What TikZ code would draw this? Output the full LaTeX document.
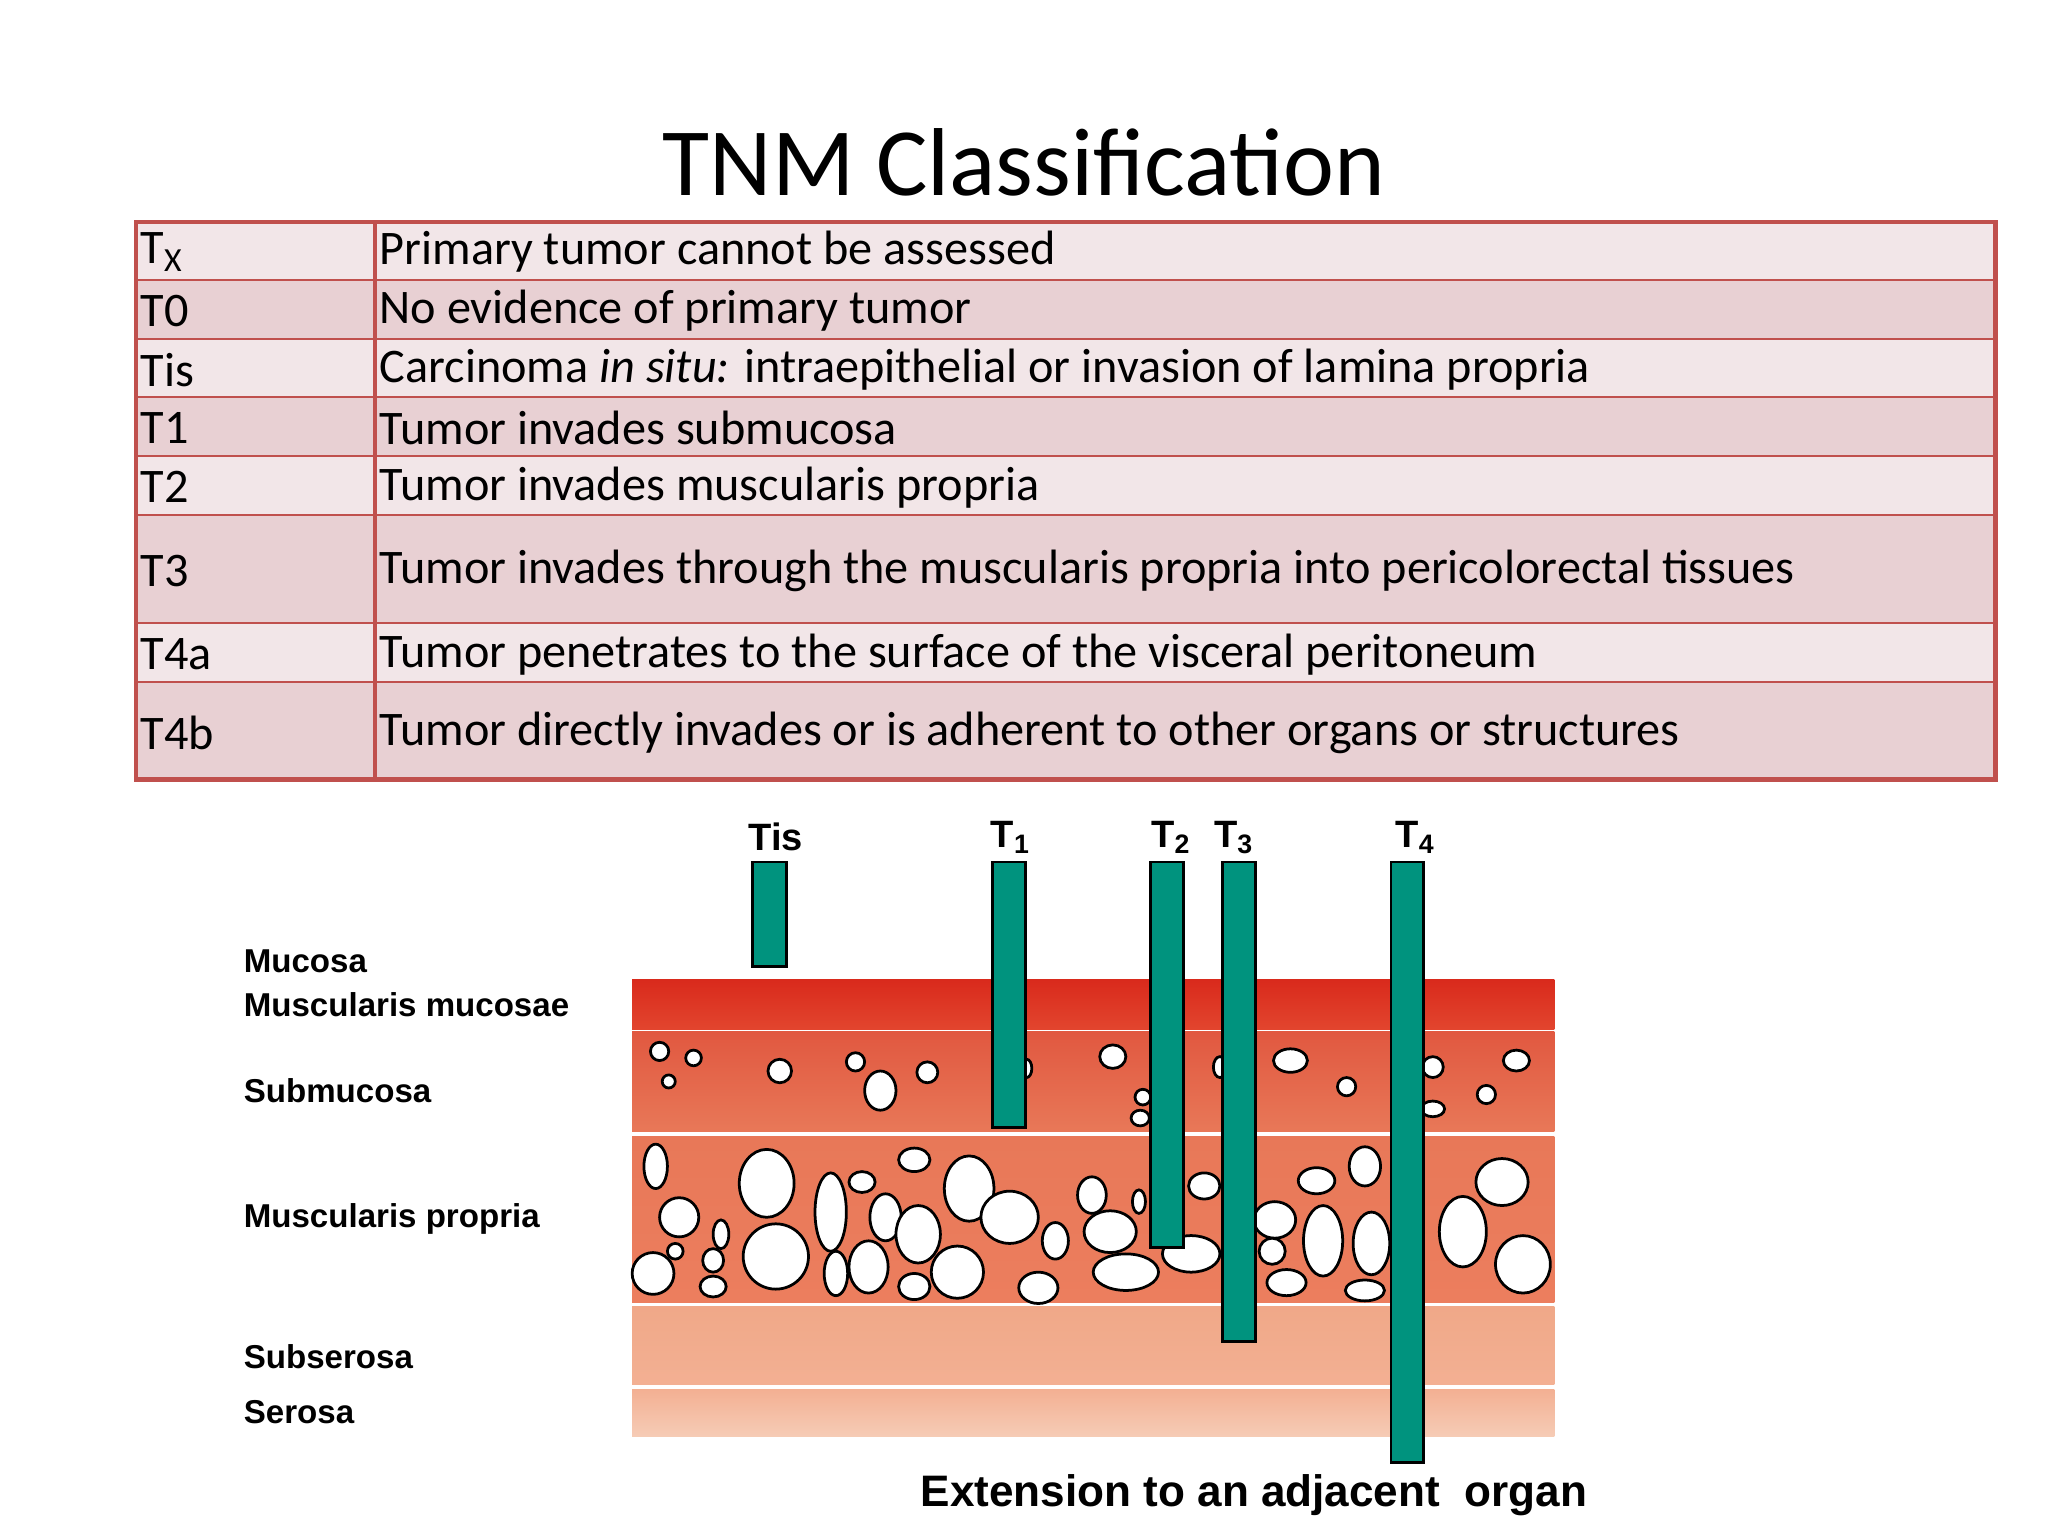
\documentclass[tikz,border=0pt]{standalone}
\usepackage{fontspec}
\setmainfont{Carlito}
\newfontfamily\arialb{Liberation Sans}[FakeBold=0]
\begin{document}
\begin{tikzpicture}[x=0.01cm,y=-0.01cm,
  cellL/.style={fill=white!95!red!5,draw=none},
  cellD/.style={fill=red!25!gray!20!white!90,draw=none},
  ttext/.style={anchor=west,font=\fontsize{10.5}{12}\selectfont,inner sep=0pt},
  lab/.style={anchor=west,font=\arialb\bfseries\fontsize{7.2}{8}\selectfont,inner sep=0pt},
  tlab/.style={font=\arialb\bfseries\fontsize{8.3}{9}\selectfont,inner sep=0pt},
  bar/.style={fill=teal!85!green!70!black,draw=black,line width=0.6pt},
  cell/.style={fill=white,draw=black,line width=0.6pt}]
\useasboundingbox (0,0) rectangle (1568,1176);
\definecolor{rowL}{HTML}{F2E6E8}
\definecolor{rowD}{HTML}{E8D0D3}
\definecolor{brd}{HTML}{C0504D}
\definecolor{bar}{HTML}{00937E}
\node[font=\fontsize{21}{24}\selectfont] (title) at (784,124) {TNM Classification};
% table rows
\foreach \a/\b/\c [count=\i] in {170/215/rowL,215/260/rowD,260/305/rowL,305/350/rowD,350/395/rowL,395/478/rowD,478/523/rowL,523/597/rowD}{
  \fill[\c] (104,\a) rectangle (1528,\b);
  \draw[brd,line width=0.9pt] (104,\b) -- (1528,\b);
}
\draw[brd,line width=1pt] (104,170) rectangle (1528,597);
\draw[brd,line width=1pt] (287,170) -- (287,597);
\node[ttext] (k1) at (107,193) {T\textsubscript{X}};
\node[ttext] (v1) at (290,193) {Primary tumor cannot be assessed};
\node[ttext] (k2) at (107,238) {T0};
\node[ttext] (v2) at (290,238) {No evidence of primary tumor};
\node[ttext] (k3) at (107,283) {Tis};
\node[ttext] (v3) at (290,283) {Carcinoma \textit{in situ:} intraepithelial or invasion of lamina propria};
\node[ttext] (k4) at (107,328) {T1};
\node[ttext] (v4) at (290,328) {Tumor invades submucosa};
\node[ttext] (k5) at (107,373) {T2};
\node[ttext] (v5) at (290,373) {Tumor invades muscularis propria};
\node[ttext] (k6) at (107,437) {T3};
\node[ttext] (v6) at (290,437) {Tumor invades through the muscularis propria into pericolorectal tissues};
\node[ttext] (k7) at (107,501) {T4a};
\node[ttext] (v7) at (290,501) {Tumor penetrates to the surface of the visceral peritoneum};
\node[ttext] (k8) at (107,561) {T4b};
\node[ttext] (v8) at (290,561) {Tumor directly invades or is adherent to other organs or structures};
% layers
\definecolor{c1}{HTML}{D92A1C}\definecolor{c2}{HTML}{E2452E}
\definecolor{c3}{HTML}{E15840}\definecolor{c4}{HTML}{E87858}
\definecolor{c5}{HTML}{EC7E5E}\definecolor{c6}{HTML}{F0A888}
\definecolor{c7}{HTML}{F3B093}\definecolor{c8}{HTML}{F6CCB6}
\shade[top color=c1,bottom color=c2] (484,750) rectangle (1190,788);
\shade[top color=c3,bottom color=c4] (484,790) rectangle (1190,866);
\shade[top color=c4,bottom color=c5] (484,870) rectangle (1190,997);
\shade[top color=c6,bottom color=c7] (484,1000) rectangle (1190,1060);
\shade[top color=c7,bottom color=c8] (484,1064) rectangle (1190,1100);
% cells
\foreach \x/\y/\a/\b in {505/805/7/7,531/810/6/6,512/828/5/5,597/820/9/9,655/813/7/7,674/835/12/15,710/821/8/8,852/809/10/9,988/812/13/9,1031/832/7/7,1097/817/8/8,1138/838/7/7,1161/812/10/8,875/840/6/6,873/856/7/6,1097/849/9/6,934/817/5/8,786/818/4/7,
502/893/9/17,587/906/21/26,520/932/15/15,552/945/6/11,546/965/8/9,594/962/25/25,500/975/16/16,546/985/10/8,636/928/12/30,660/905/10/8,678/932/12/18,640/975/9/17,665/970/15/20,703/945/17/22,733/974/20/20,700/985/12/10,700/888/12/9,742/910/19/25,773/932/22/20,795/986/15/12,808/950/10/14,836/915/11/14,850/943/20/16,862/974/25/14,922/908/12/10,912/960/22/14,976/934/16/14,974/958/10/10,985/982/15/10,1013/950/15/27,1008/904/14/10,1045/893/12/15,1050/952/14/24,1045/988/15/8,1150/905/20/18,1120/943/18/27,1166/968/21/22,872/920/5/9,517/958/6/6}{
  \draw[cell] (\x,\y) ellipse [x radius=\a,y radius=\b];
}
% bars
\node[tlab] (lTis) at (594,641) {Tis};
\node[tlab] (lT1) at (774,641) {T\textsubscript{1}};
\node[tlab] (lT2) at (897,641) {T\textsubscript{2}};
\node[tlab] (lT3) at (945,641) {T\textsubscript{3}};
\node[tlab] (lT4) at (1084,641) {T\textsubscript{4}};
\draw[bar,fill=bar] (576,660) rectangle (602,740);
\draw[bar,fill=bar] (760,660) rectangle (785,863);
\draw[bar,fill=bar] (881,660) rectangle (906,955);
\draw[bar,fill=bar] (936,660) rectangle (961,1027);
\draw[bar,fill=bar] (1065,660) rectangle (1090,1120);
% side labels
\node[lab] (m1) at (186,736) {Mucosa};
\node[lab] (m2) at (186,769) {Muscularis mucosae};
\node[lab] (m3) at (186,835) {Submucosa};
\node[lab] (m4) at (186,933) {Muscularis propria};
\node[lab] (m5) at (186,1039) {Subserosa};
\node[lab] (m6) at (186,1081) {Serosa};
\node[font=\arialb\bfseries\fontsize{9.6}{11}\selectfont,inner sep=0pt] (ext) at (960,1145) {Extension to an adjacent\ \ organ};
\end{tikzpicture}
\end{document}
